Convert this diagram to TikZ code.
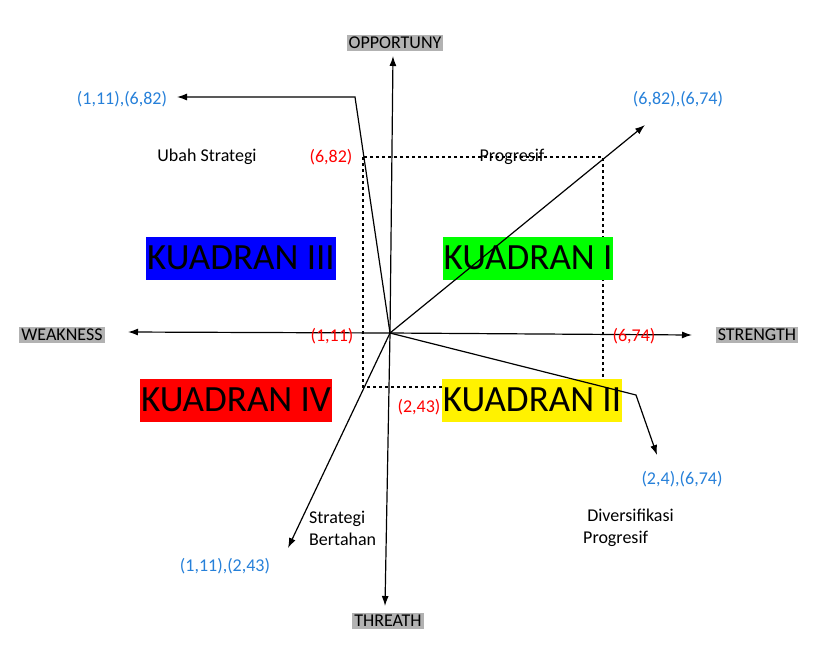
\documentclass[tikz,border=0pt]{standalone}
\usepackage{fontspec}
\setmainfont{Carlito}
\begin{document}
\begin{tikzpicture}[x=1pt,y=-1pt,
 lab/.style={fill=black!30,inner sep=2pt,font=\fontsize{18}{20}\selectfont},
 txt/.style={font=\fontsize{18}{22}\selectfont,inner sep=0pt},
 blu/.style={txt,text=blue!50!cyan!70!gray},
 rd/.style={txt,text=red},
 quad/.style={inner sep=1pt,font=\fontsize{37}{40}\selectfont,minimum height=43pt},
 arr/.style={-{Latex[length=10pt,width=7pt]},line width=1.2pt}]
\usetikzlibrary{arrows.meta}
\useasboundingbox (0,0) rectangle (817,657);
\coordinate (o) at (390,333);
\node[lab] (opp) at (395,43) {OPPORTUNY};
\node[lab] (str) at (757,335) {STRENGTH};
\node[lab] (weak) at (62,335) {WEAKNESS};
\node[lab] (thr) at (388,621) {THREATH};
\coordinate (up) at (393,56);
\coordinate (dn) at (385,606);
\coordinate (lf) at (128,332);
\coordinate (rt) at (692,335);
\draw[arr] (o) -- (up);
\draw[arr] (o) -- (dn);
\draw[arr] (o) -- (lf);
\draw[arr] (o) -- (rt);
\draw[dashed,line width=1.5pt] (363,157) rectangle (603,387);
\node[quad,fill=blue,minimum width=186pt] (k3) at (241,258) {KUADRAN III};
\node[quad,fill=green,minimum width=170pt] (k1) at (528,258) {KUADRAN I};
\node[quad,fill=red,minimum width=189pt] (k4) at (236,400) {KUADRAN IV};
\node[quad,fill=yellow,minimum width=179pt] (k2) at (532,400) {KUADRAN II};
\coordinate (a1) at (645,125);
\coordinate (a4) at (288,548);
\coordinate (b2) at (636,395);
\coordinate (a2) at (657,455);
\coordinate (b3) at (355,97);
\coordinate (a3) at (177,97);
\draw[arr] (o) -- (a1);
\draw[arr] (o) -- (a4);
\draw[arr] (o) -- (b2) -- (a2);
\draw[arr] (o) -- (b3) -- (a3);
\node[blu] (t1) at (122,99) {(1,11),(6,82)};
\node[blu] (t2) at (678,99) {(6,82),(6,74)};
\node[blu] (t3) at (682,479) {(2,4),(6,74)};
\node[blu] (t4) at (225,566) {(1,11),(2,43)};
\node[rd] (r1) at (331,157) {(6,82)};
\node[rd] (r2) at (332,336) {(1,11)};
\node[rd] (r3) at (634,336) {(6,74)};
\node[rd] (r4) at (419,407) {(2,43)};
\node[txt] (u) at (207,157) {Ubah Strategi};
\node[txt] (p) at (512,157) {Progresif};
\node[txt,align=left,anchor=west] (sb) at (309,528) {Strategi\\Bertahan};
\node[txt,align=left,anchor=west] (dp) at (583,528) {\ Diversifikasi\\Progresif};
\end{tikzpicture}
\end{document}
